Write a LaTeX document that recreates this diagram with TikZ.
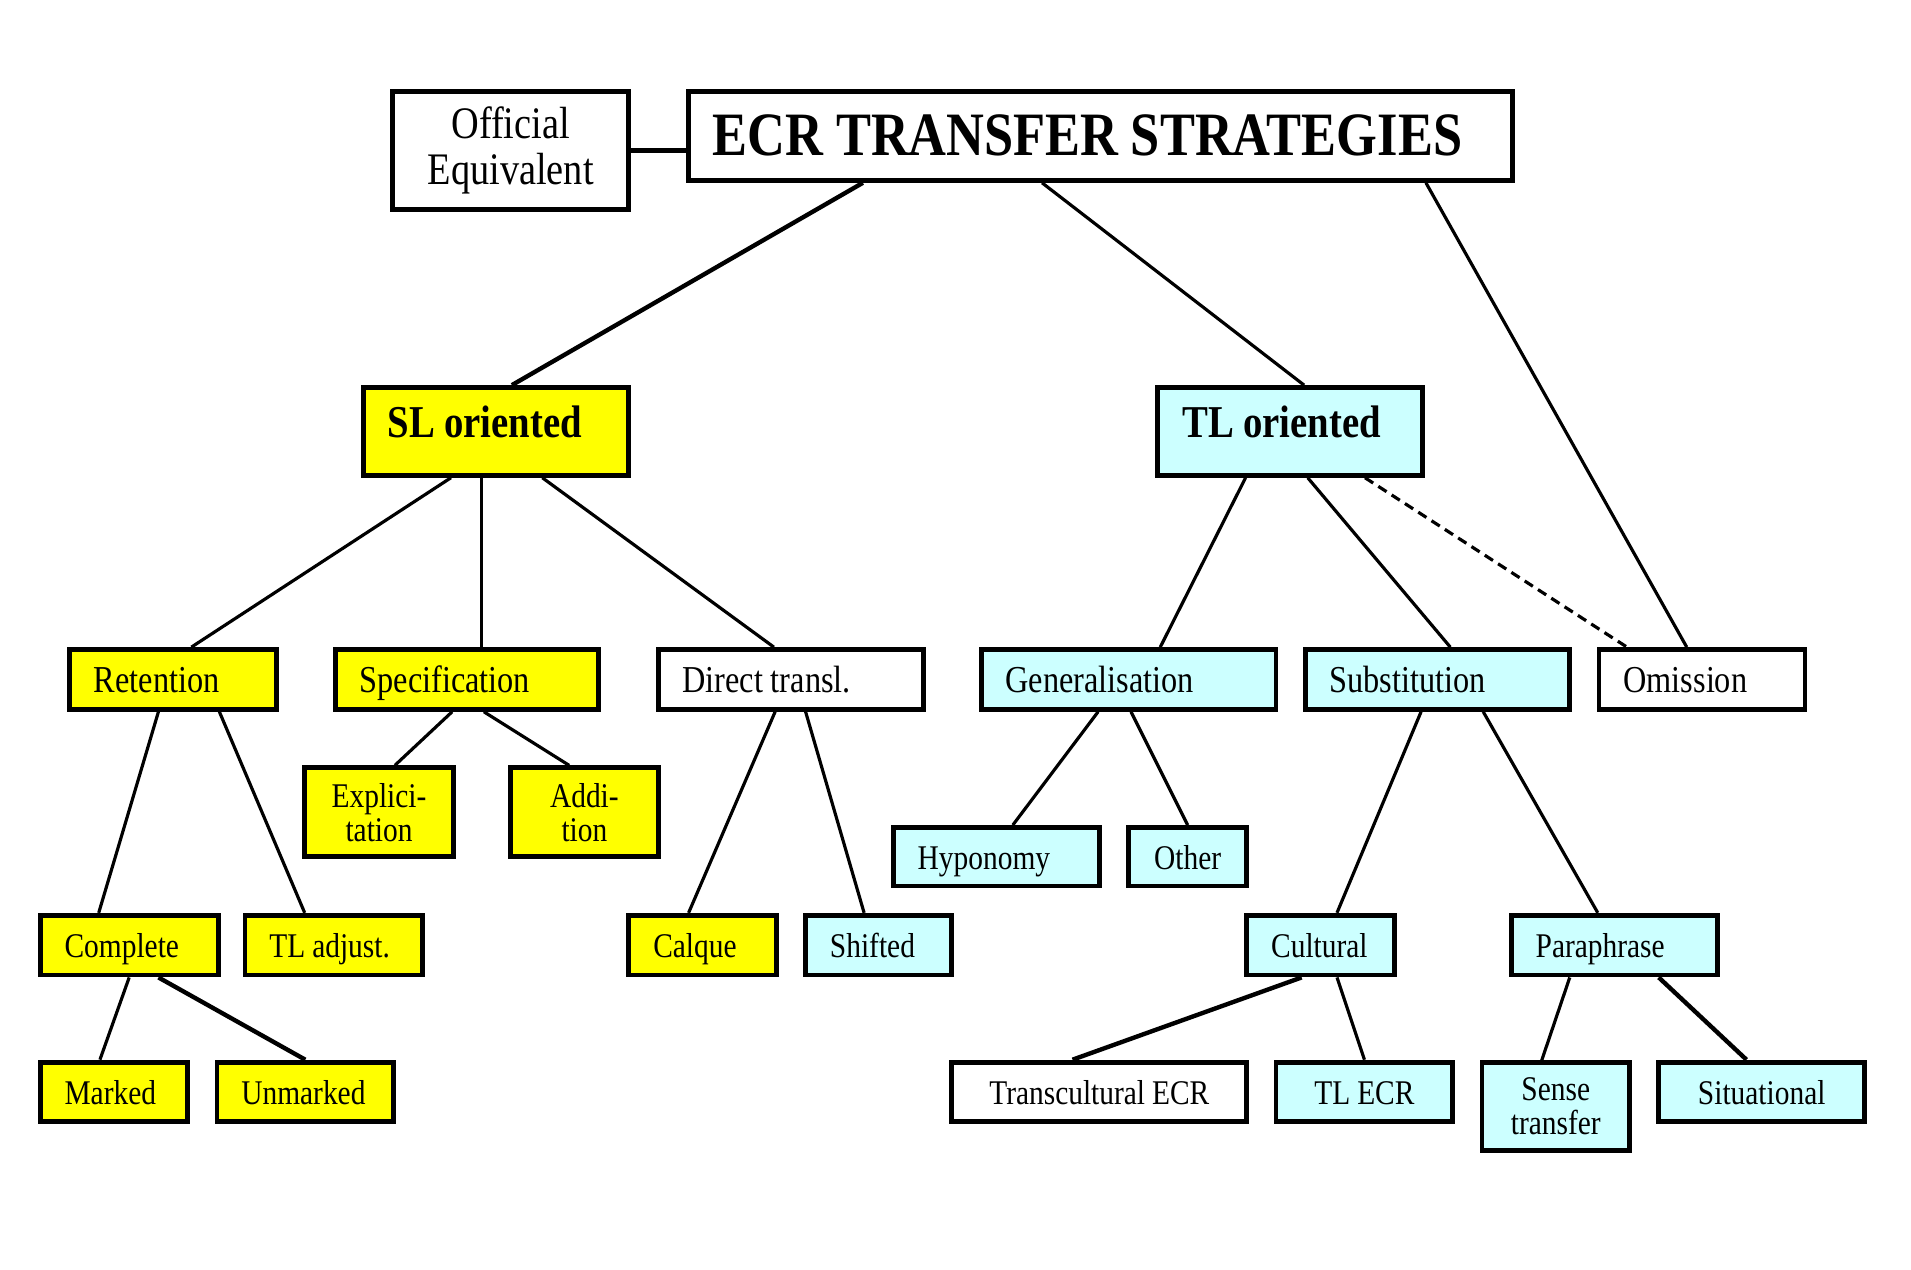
\documentclass[tikz,border=0pt]{standalone}
\usepackage{fontspec}
\setmainfont{Liberation Serif}[FakeStretch=0.85, WordSpace=0.95]
\usetikzlibrary{positioning}
\definecolor{ecrYellow}{HTML}{FFFF00}
\definecolor{ecrCyan}{HTML}{CCFFFF}

\begin{document}
\begin{tikzpicture}[
    x=0.5pt, y=-0.5pt,
    box/.style={rectangle, draw=black, line width=2pt, inner xsep=10pt,
                inner ysep=0pt, minimum height=24.5pt,
                text height=11.2pt, text depth=0.8pt,
                font=\fontsize{15.6}{16}\selectfont},
    lbox/.style={box, text width=#1, align=flush left},
    cbox/.style={box, minimum width=#1, align=center},
    twoline/.style={text height={}, text depth={}},
    head/.style={text height=10.3pt, text depth=5.4pt,
                 font=\fontsize{18.7}{19}\selectfont\bfseries},
    small/.style={font=\fontsize{14.2}{14}\selectfont},
    yfill/.style={fill=ecrYellow},
    cfill/.style={fill=ecrCyan},
    link/.style={line width=1.3pt},
    thicklink/.style={line width=1.8pt},
  ]
    \fill[white] (0,0) rectangle (1568,1042);

    % top level
    \node[cbox=97pt, twoline, minimum height=48.5pt,
          font=\fontsize{18.5}{19}\selectfont] (off) at (419,123.5) {Official\\Equivalent};
    \node[lbox=318pt, twoline, minimum height=36.5pt,
          font=\fontsize{25.3}{26}\selectfont\bfseries] (ecr) at (903,111.5) {ECR TRANSFER STRATEGIES};

    \node[lbox=89pt, yfill, head, minimum height=36pt] (sl) at (407,354) {SL oriented};
    \node[lbox=88.5pt, cfill, head, minimum height=36pt] (tl) at (1058.5,354) {TL oriented};

    % second level
    \node[lbox=65pt, yfill] (ret) at (142,557.5) {Retention};
    \node[lbox=88pt, yfill] (spec) at (383,557.5) {Specification};
    \node[lbox=89pt, fill=white] (dir) at (649,557.5) {Direct transl.};
    \node[lbox=101pt, cfill] (gen) at (926,557.5) {Generalisation};
    \node[lbox=88.5pt, cfill] (sub) at (1179.5,557.5) {Substitution};
    \node[lbox=64.5pt, fill=white] (omi) at (1396.5,557.5) {Omission};

    % third level
    \node[cbox=61pt, yfill, small, twoline, minimum height=36.5pt] (expl) at (311,666.5) {Explici-\\tation};
    \node[cbox=60.5pt, yfill, small, twoline, minimum height=36.5pt] (add) at (479.5,666.5) {Addi-\\tion};
    \node[lbox=64.5pt, cfill, small, minimum height=24pt] (hyp) at (817.5,703) {Hyponomy};
    \node[cbox=48.5pt, cfill, small, minimum height=24pt] (oth) at (974.5,703) {Other};

    \node[lbox=53pt, yfill, small] (comp) at (106,775.5) {Complete};
    \node[lbox=53pt, yfill, small] (tladj) at (274,775.5) {TL adjust.};
    \node[lbox=40.5pt, yfill, small] (calq) at (576.5,775.5) {Calque};
    \node[lbox=40pt, cfill, small] (shif) at (721,775.5) {Shifted};
    \node[lbox=40.5pt, cfill, small] (cult) at (1083.5,775.5) {Cultural};
    \node[lbox=64.5pt, cfill, small] (para) at (1324.5,775.5) {Paraphrase};

    % bottom level
    \node[lbox=40.5pt, yfill, small] (mark) at (93.5,896) {Marked};
    \node[lbox=52.5pt, yfill, small] (unm) at (250.5,896) {Unmarked};
    \node[cbox=121pt, fill=white, small] (trans) at (902,896) {Transcultural ECR};
    \node[cbox=72.5pt, cfill, small] (tlecr) at (1119.5,896) {TL ECR};
    \node[cbox=60.5pt, cfill, small, twoline, minimum height=36pt] (sense) at (1276.5,908) {Sense\\transfer};
    \node[cbox=84.5pt, cfill, small] (sit) at (1445.5,896) {Situational};

    % links
    \draw[thicklink] (off.east) -- (off.east -| ecr.west);
    \draw[thicklink] ([xshift=-97.5pt]ecr.south) -- ([xshift=6.5pt]sl.north);
    \draw[link] ([xshift=-24pt]ecr.south) -- ([xshift=5.75pt]tl.north);
    \draw[link] ([xshift=133.5pt]ecr.south) -- ([xshift=-6.25pt]omi.north);

    \draw[link] ([xshift=-18.5pt]sl.south) -- ([xshift=7.5pt]ret.north);
    \draw[link] ([xshift=-6pt]sl.south) -- ([xshift=6pt]spec.north);
    \draw[link] ([xshift=19pt]sl.south) -- ([xshift=-7pt]dir.north);

    \draw[link] ([xshift=-18.25pt]tl.south) -- ([xshift=13pt]gen.north);
    \draw[link] ([xshift=7.25pt]tl.south) -- ([xshift=5.25pt]sub.north);
    \draw[link, dash pattern=on 4pt off 2.5pt] ([xshift=30.75pt]tl.south) -- ([xshift=-30.75pt]omi.north);

    \draw[link] ([xshift=-6pt]ret.south) -- ([xshift=-12.5pt]comp.north);
    \draw[link] ([xshift=19pt]ret.south) -- ([xshift=-12pt]tladj.north);
    \draw[link] ([xshift=-6pt]spec.south) -- ([xshift=6.5pt]expl.north);
    \draw[link] ([xshift=7pt]spec.south) -- ([xshift=-6.25pt]add.north);
    \draw[link] ([xshift=-6.5pt]dir.south) -- ([xshift=-5.75pt]calq.north);
    \draw[link] ([xshift=6pt]dir.south) -- ([xshift=-6pt]shif.north);
    \draw[link] ([xshift=-12.5pt]gen.south) -- ([xshift=6.75pt]hyp.north);
    \draw[link] ([xshift=1pt]gen.south) -- (oth.north);
    \draw[link] ([xshift=-6.75pt]sub.south) -- ([xshift=6.75pt]cult.north);
    \draw[link] ([xshift=18.75pt]sub.south) -- ([xshift=-6.75pt]para.north);

    \draw[link] (comp.south) -- ([xshift=-5.75pt]mark.north);
    \draw[thicklink] ([xshift=12pt]comp.south) -- (unm.north);
    \draw[thicklink] ([xshift=-7.75pt]cult.south) -- ([xshift=-11pt]trans.north);
    \draw[link] ([xshift=6.75pt]cult.south) -- (tlecr.north);
    \draw[link] ([xshift=-18.25pt]para.south) -- ([xshift=-5.75pt]sense.north);
    \draw[thicklink] ([xshift=18.25pt]para.south) -- ([xshift=-6.25pt]sit.north);
\end{tikzpicture}
\end{document}
